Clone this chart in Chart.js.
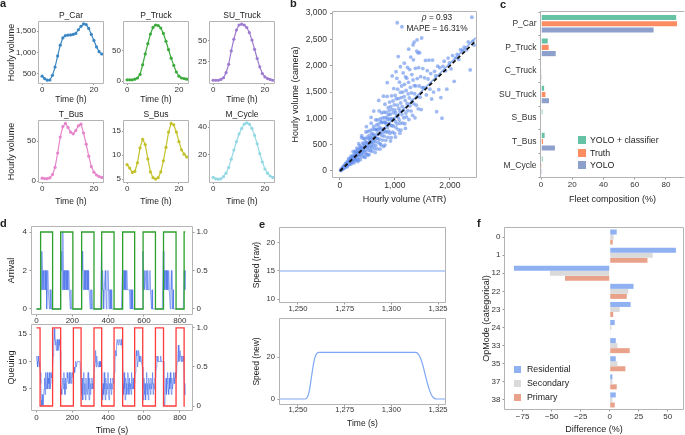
<!DOCTYPE html>
<html>
<head>
<meta charset="utf-8">
<script src="https://cdn.jsdelivr.net/npm/chart.js@4.4.0/dist/chart.umd.min.js"></script>
<style>
  html, body { margin: 0; padding: 0; background: #fff; overflow: hidden; }
  body { width: 685px; height: 435px; position: relative; font-family: "Liberation Sans", Arial, sans-serif; color: #222; }
  canvas { position: absolute; }
  .t { position: absolute; white-space: nowrap; line-height: 1; transform: translate(-50%, -50%); }
  .lbl { position: absolute; font-weight: bold; font-size: 11px; line-height: 11px; }
  .sw { position: absolute; }
  .lg { position: absolute; white-space: nowrap; line-height: 1; transform: translateY(-50%); }
</style>
</head>
<body>
<script>
// ---------- data: panel a (hourly profiles) ----------
const hours = [0,1,2,3,4,5,6,7,8,9,10,11,12,13,14,15,16,17,18,19,20,21,22,23];
const pCar = [450,390,355,360,470,660,920,1170,1340,1395,1405,1410,1420,1445,1530,1610,1665,1650,1560,1420,1280,1130,1020,965];
const pTruck = [2,2,2,3,5,11,27,45,62,78,89,93,92,88,79,66,52,38,26,15,8,5,4,3];
const suTruck = [3,3,3,4,6,12,22,38,52,63,69,70,69,66,60,51,40,29,19,11,7,5,4,3];
const tBus = [3.5,3,3,4,8,17,35,55,68,72,67,61,59,63,69,71,60,46,31,18,11,7.5,5.5,4.5];
const sBus = [8,7.3,6.4,6.6,8.4,11.5,13.3,12.2,9.2,6.5,5.3,5.0,5.3,6.5,8.8,11.6,14.8,16.6,16.3,14.8,12.8,11.1,10.2,9.6];
const mCycle = [4,3,2.7,3,4.5,7,11,17,23.5,29.5,35,39,42,43,42,39,34,28,21,15,10,7,5,4];
const aTicksX = [0, 20];

// ---------- data: panel b (camera vs ATR hourly volume) ----------
const scatterPoints = [
  [12,16],[19,13],[24,36],[31,28],[37,44],[42,32],[49,51],[55,77],[58,49],[66,76],[71,48],[77,100],[83,79],[86,95],[94,75],
  [99,144],[104,104],[111,80],[115,140],[121,109],[127,137],[132,82],[136,184],[143,139],[148,170],[151,118],[157,236],[163,166],
  [168,146],[172,217],[179,125],[183,201],[188,175],[194,272],[197,162],[203,240],[208,137],[214,225],[219,285],[224,202],[229,256],
  [233,172],[238,369],[244,239],[249,209],[253,304],[258,155],[264,282],[269,371],[273,251],[278,220],[284,329],[289,199],[293,375],[298,298],
  [303,258],[307,436],[312,222],[318,350],[321,305],[327,409],[332,209],[336,353],[341,518],[347,305],[352,412],[355,270],[361,480],
  [366,355],[372,216],[375,450],[381,404],[386,320],[392,635],[397,365],[401,453],[406,272],[412,531],[417,417],[421,333],[427,619],
  [433,390],[436,514],[442,270],[447,483],[452,615],[458,394],[463,565],[467,341],[472,741],[478,459],[483,536],[487,317],[493,641],
  [498,443],[503,523],[508,752],[514,396],[518,616],[523,492],[529,317],[534,678],[538,549],[544,452],[549,769],[553,387],[559,637],
  [564,553],[568,909],[573,499],[579,712],[584,374],[588,629],[594,790],[598,544],[326,179],[459,257],[512,297],[395,672],[481,842],
  [566,1019],[349,349],[431,444],[547,596],[577,439],
  [603,699],[607,486],[613,846],[618,587],[622,678],[628,427],[633,791],[637,643],[643,553],[648,972],[652,482],[657,782],[663,617],
  [667,874],[672,706],[678,420],[683,970],[687,618],[692,775],[698,544],[702,892],[707,700],[713,1141],[717,602],[722,830],[728,517],
  [733,990],[737,715],[742,801],[748,494],[753,919],[757,1105],[762,671],[768,791],[773,587],[777,1010],[783,736],[788,922],[792,467],
  [798,1117],[803,803],[807,662],[813,1008],[818,1268],[822,756],[828,919],[833,583],[837,1113],[843,894],[847,737],[852,1022],
  [858,1416],[862,828],[867,980],[873,637],[877,1201],[882,900],[888,755],[893,1143],[897,978],[615,1138],[705,1340],[790,1422],
  [860,1677],[640,352],[730,416],[820,492],[675,797],[745,939],[815,929],[885,1071],
  [903,1309],[908,717],[913,1077],[918,872],[924,1220],[929,994],[933,634],[939,1427],[944,859],[949,1167],[953,991],[959,738],
  [964,1330],[968,1104],[973,856],[979,1566],[984,984],[988,1255],[994,716],[999,1159],[1004,1436],[1009,938],[1015,1106],[1019,825],
  [1024,1372],[1030,1051],[1035,1760],[1039,894],[1044,1253],[1050,1554],[1055,1023],[1061,785],[1066,1375],[1071,1189],[1077,969],
  [1082,1688],[1088,1142],[1093,907],[1099,1495],[1104,1292],[1110,777],[1116,1395],[1121,1614],[1127,1071],[1133,1224],[1139,911],
  [1144,1499],[1150,1863],[1156,1156],[1162,1011],[1168,1413],[1174,1644],[1180,897],[1186,1340],[1192,1788],[1197,1101],
  [1042,2816],[1127,2740],[950,1805],[1020,1887],[1100,1980],[1170,2048],[1060,2173],[920,570],[1010,646],[1090,719],[1190,809],
  [1204,1529],[1209,1028],[1216,1763],[1222,1283],[1229,1966],[1235,1149],[1241,1464],[1248,1685],[1254,978],[1261,1387],[1268,1927],
  [1274,1236],[1281,1588],[1288,2164],[1294,1139],[1301,1483],[1308,1831],[1315,1341],[1322,1058],[1329,1728],[1336,2111],[1343,1276],
  [1350,1620],[1358,1467],[1365,1010],[1373,1950],[1381,1616],[1389,1250],[1397,2277],[1405,1756],[1414,1414],[1423,1181],[1432,1962],
  [1441,1614],[1450,2248],[1459,1401],[1468,1791],[1477,1167],[1486,2526],[1495,1585],[1348,2446],[1402,2489],[1420,2243],[1250,2313],
  [1330,2394],
  [1508,1945],[1524,1585],[1539,1770],[1556,2101],[1571,1445],[1588,1906],[1603,1747],[1619,2105],[1636,1554],[1652,1850],[1668,1368],
  [1685,2106],[1703,1499],[1721,1893],[1740,1810],[1759,1126],[1778,1991],[1797,1545],[1816,1961],[1836,1395],[1856,1002],[1874,1986],
  [1895,2085],[1921,1902],[1944,1555],[1968,2145],[1992,2052],[2021,1940],[2049,2192],[2078,1704],[2102,2144],[2131,2216],[2163,2120],
  [2194,2304],[2226,2293],[2261,2351],[2298,2298],[2334,2451],[2370,1920],[2400,2920],[2418,2466],[2440,2391]
];
const diagX = [0, 2480], diagY = [0, 2480];
const fitX = [0, 2470], fitY = [-20, 2530];
const bTicksX = [0, 1000, 2000];
const bTicksY = [0, 500, 1000, 1500, 2000, 2500, 3000];

// ---------- data: panel c (fleet composition, %) ----------
const fleetClasses = ['P_Car', 'P_Truck', 'C_Truck', 'SU_Truck', 'S_Bus', 'T_Bus', 'M_Cycle'];
const yoloClassifier = [87, 4.7, 0.3, 2.4, 1.3, 2.7, 1.4];
const truth = [87.5, 5.3, 0.6, 3.2, 0.1, 1.7, 1.0];
const yoloOnly = [72.5, 9.8, 1.0, 5.5, 0.2, 9.3, 1.1];
const cTicksX = [0, 20, 40, 60, 80];

// ---------- data: panel d (signal timing, sampled every 3 s) ----------
const dStep = 3;
const arrival = [
  0,0,0,0,0,0,0,0,
  3,1,3,2,1,2,1,2,2,1,2,0,1,2,1,1,0,1,1,0,0,0,0,
  0,0,0,0,0,0,0,0,0,0,0,0,0,0,
  4,2,3,1,4,2,1,2,1,2,2,1,2,1,1,2,1,1,0,1,0,0,0,
  0,0,0,0,0,0,0,0,0,0,0,0,0,0,0,0,
  2,3,2,1,2,2,1,2,1,2,2,1,2,1,1,1,0,1,0,1,0,0,0,0,
  0,0,0,0,0,0,0,0,0,0,0,0,0,
  3,1,2,1,0,1,1,2,1,0,1,1,2,1,0,1,1,0,1,0,0,0,0,0,
  0,0,0,0,0,0,0,0,0,0,0,0,0,0,0,
  2,1,2,2,1,2,1,1,2,1,1,1,1,1,0,1,1,0,1,0,0,0,0,
  0,0,0,0,0,0,0,0,0,0,0,0,0,0,0,
  3,1,2,1,2,2,1,2,1,2,1,1,1,2,1,1,0,1,0,0,0,0,0,0,
  0,0,0,0,0,0,0,0,0,0,0,0,0,0,
  3,1,2,1,2,2,1,2,1,1,2,1,1,0,1,2,1,0,1,0,0,0,0,0,
  0,0,0,0,0,0,0,0,0,0,0,0,0,0,0,
  2,1,2
];
const queuing = [
  11,10,9,11,10,9,10,
  8,6,3,2,4,2,3,5,7,4,8,5,6,8,5,7,6,8,5,6,8,7,8,
  9,11,13,16,14,13,14,12,13,14,12,13,14,13,12,
  6,5,4,6,7,5,8,6,4,7,5,6,8,7,6,7,8,6,7,8,6,7,8,7,
  8,9,8,9,10,9,9,10,10,10,10,10,10,10,
  6,4,7,3,5,8,4,6,3,7,5,4,6,8,5,3,7,4,6,5,7,6,5,7,
  8,9,10,12,9,11,10,10,9,10,10,9,10,9,10,
  5,3,6,4,8,5,3,7,4,6,5,8,4,3,6,5,7,4,6,5,7,6,8,
  8,10,12,11,13,14,14,13,14,14,14,13,14,14,13,12,
  6,4,8,5,3,7,6,4,5,8,6,4,7,5,6,4,8,5,6,7,5,6,
  7,8,10,12,11,9,10,12,11,10,10,11,10,10,9,
  5,3,7,4,6,3,5,8,4,6,3,7,5,6,4,7,5,6,8,4,6,5,7,
  7,8,9,11,10,11,10,10,10,10,11,10,10,10,10,10,
  4,2,3,5,7,4,6,8,5,4,7,5,8,6,4,7,5,6,8,7,6,8,7,
  8,9,10,11,13,10,11,12,11,10,11,10,11,11,10,
  6,4,4
];
const greenTimes = [0, 23, 90, 135, 203, 252, 321, 364, 433, 481, 548, 595, 664, 709, 779, 824, 830];
const greenState = [0, 1, 0, 1, 0, 1, 0, 1, 0, 1, 0, 1, 0, 1, 0, 1, 1];
const redTimes = [0, 20, 90, 135, 206, 249, 321, 364, 433, 481, 548, 593, 664, 709, 779, 824, 828];
const redState = [1, 0, 1, 0, 1, 0, 1, 0, 1, 0, 1, 0, 1, 0, 1, 0, 0];
const dTicksX = [0, 200, 400, 600, 800];

// ---------- data: panel e (speed) ----------
const rawTimes = [1240, 1329];
const rawSpeed = [15, 15];
const newTimes = [1240,1254,1255,1256,1257,1258,1259,1260,1261,1313,1314,1315,1316,1317,1318,1319,1320,1321,1322,1323,1324,1329];
const newSpeed = [0,0,0.8,3.5,9,15,19.5,21.6,22.2,22.2,21.8,20.6,18.5,15.5,12,8.5,5.3,2.8,1.1,0.3,0,0];
const eTicksX = [1250, 1275, 1300, 1325];

// ---------- data: panel f (OpMode difference, %) ----------
const opModes = ['0', '1', '12', '22', '23', '24', '33', '35', '37', '38'];
const residential = [6, 57, -82.5, 20.5, 18, 4.3, 5.2, 5.2, 2.3, 5.2];
const secondary = [3.4, 37, -51.5, 16, 8.6, 1.5, 6.6, 6.6, 2.3, 2.3];
const primary = [2.6, 32.5, -38.5, 14.7, 3, 0.5, 17.2, 13.5, 6, 4.3];
const fTicksX = [-75, -50, -25, 0, 25, 50];

// ---------- chart setup ----------
Chart.defaults.font.family = '"Liberation Sans", Arial, sans-serif';
Chart.defaults.color = '#333';
Chart.defaults.animation = false;
Chart.defaults.events = [];
Chart.defaults.plugins.legend.display = false;
Chart.defaults.plugins.tooltip.enabled = false;

// grey box round each plot area
Chart.register({
  id: 'frame',
  afterDatasetsDraw(chart, args, opts) {
    const { ctx, chartArea: a } = chart;
    const sides = opts.sides || 'ltrb';
    const l = Math.round(a.left) - 0.5, r = Math.round(a.right) + 0.5;
    const t = Math.round(a.top) - 0.5, b = Math.round(a.bottom) + 0.5;
    ctx.save();
    ctx.strokeStyle = opts.color || '#b4b4b4';
    ctx.lineWidth = 1;
    ctx.beginPath();
    if (sides.includes('l')) { ctx.moveTo(l, t); ctx.lineTo(l, b); }
    if (sides.includes('r')) { ctx.moveTo(r, t); ctx.lineTo(r, b); }
    if (sides.includes('t')) { ctx.moveTo(l, t); ctx.lineTo(r, t); }
    if (sides.includes('b')) { ctx.moveTo(l, b); ctx.lineTo(r, b); }
    ctx.stroke();
    ctx.restore();
  }
});

// rect = plot area [L, T, R, B] on the page, m = room for axes [left, top, right, bottom]
function place(rect, m, config, rightAxis) {
  const [L, T, R, B] = rect, [ml, mt, mr, mb] = m;
  const w = R - L + ml + mr, h = B - T + mt + mb;
  const cv = document.createElement('canvas');
  cv.width = w; cv.height = h;
  cv.style.left = (L - ml) + 'px';
  cv.style.top = (T - mt) + 'px';
  cv.style.width = w + 'px';
  cv.style.height = h + 'px';
  document.body.appendChild(cv);
  config.options.responsive = false;
  config.options.layout = { padding: { left: 0, top: mt, right: rightAxis ? 0 : mr, bottom: 0 } };
  return new Chart(cv, config);
}

function lin(pos, min, max, ticks, size, o = {}) {
  const horiz = pos === 'bottom';
  const ax = {
    type: 'linear', position: pos, min, max,
    afterBuildTicks: s => { s.ticks = ticks.map(v => ({ value: v })); },
    afterFit: s => {
      if (horiz) { s.height = size; s.paddingLeft = 0; s.paddingRight = 0; }
      else { s.width = size; s.paddingTop = 0; s.paddingBottom = 0; }
    },
    grid: { drawOnChartArea: false, tickLength: o.tl ?? 2.5, color: '#999' },
    border: { display: false },
    ticks: { padding: o.pad ?? 1, autoSkip: false, maxRotation: 0, color: '#333',
             font: { size: o.fs ?? 8, lineHeight: 1 } },
    title: { display: !!o.title, text: o.title || '', color: '#222',
             font: { size: o.tfs ?? 9, lineHeight: 1.2 },
             padding: { top: o.tp ?? 0, bottom: o.tp ?? 0 } }
  };
  if (o.cb) ax.ticks.callback = o.cb;
  return ax;
}

function cat(size, gridOffset, fs) {
  return {
    type: 'category', position: 'left',
    afterFit: s => { s.width = size; s.paddingTop = 0; s.paddingBottom = 0; },
    grid: { drawOnChartArea: false, tickLength: 2.5, color: '#999', offset: gridOffset },
    border: { display: false },
    ticks: { padding: 2, autoSkip: false, color: '#333', font: { size: fs, lineHeight: 1 } }
  };
}

function text(html, cx, cy, size, cls) {
  const d = document.createElement('div');
  d.className = cls || 't';
  d.innerHTML = html;
  d.style.left = cx + 'px';
  d.style.top = cy + 'px';
  if (size) d.style.fontSize = size + 'px';
  document.body.appendChild(d);
  return d;
}

function legendItem(label, color, x, cy, sq, tx, size) {
  const s = document.createElement('div');
  s.className = 'sw';
  s.style.cssText = `left:${x}px;top:${cy - sq / 2}px;width:${sq}px;height:${sq}px;background:${color}`;
  document.body.appendChild(s);
  text(label, tx, cy, size, 'lg');
}

const pts = (xs, ys) => xs.map((x, i) => ({ x, y: ys[i] }));

// ---------- panel a ----------
const profiles = [
  { name: 'P_Car', vals: pCar, color: '#3b87c4', ymin: 290, ymax: 1710, yt: [500, 1000, 1500] },
  { name: 'P_Truck', vals: pTruck, color: '#3cab3c', ymin: -3.3, ymax: 98, yt: [0, 50] },
  { name: 'SU_Truck', vals: suTruck, color: '#9d7bd0', ymin: -0.3, ymax: 72.6, yt: [25, 50] },
  { name: 'T_Bus', vals: tBus, color: '#e684cc', ymin: -1.25, ymax: 75, yt: [0, 50] },
  { name: 'S_Bus', vals: sBus, color: '#c3c22c', ymin: 4.4, ymax: 17.1, yt: [5, 10, 15] },
  { name: 'M_Cycle', vals: mCycle, color: '#93d9e4', ymin: 0.7, ymax: 44.3, yt: [20, 40] }
];
const aCols = [39, 124, 210], aW = 64;
const aRows = [[22, 83, 23], [121, 182, 26]];
profiles.forEach((p, i) => {
  const col = i % 3, row = Math.floor(i / 3);
  const L = aCols[col], [T, B, mb] = aRows[row];
  const ml = col === 0 ? 39 : (col === 1 ? 16 : 14);
  place([L, T, L + aW, B], [ml, 4, 4, mb], {
    type: 'line',
    data: { datasets: [{
      data: pts(hours, p.vals), borderColor: p.color, backgroundColor: p.color,
      borderWidth: 1.2, pointRadius: 1.6, pointBorderWidth: 0, tension: 0
    }] },
    options: {
      scales: {
        x: lin('bottom', -1.2, 23.5, aTicksX, mb, { tl: 2, pad: 1, title: 'Time (h)', tfs: 8.5, tp: 1 }),
        y: lin('left', p.ymin, p.ymax, p.yt, ml, col === 0 ? { tl: 2, pad: 1, title: 'Hourly volume', tp: 6.6 } : { tl: 2, pad: 1 })
      },
      plugins: { frame: {} }
    }
  });
  text(p.name, L + aW / 2, T - 7, 8.5);
});

// ---------- panel b ----------
place([333, 12, 476, 177], [43, 8, 6, 28], {
  type: 'scatter',
  data: { datasets: [
    { data: pts(diagX, diagY), showLine: true, borderColor: '#111', borderDash: [4, 2.5], borderWidth: 1.8, pointRadius: 0 },
    { data: pts(fitX, fitY), showLine: true, borderColor: 'rgba(120,160,240,0.9)', borderWidth: 1.5, pointRadius: 0 },
    { data: scatterPoints.map(([x, y]) => ({ x, y })), backgroundColor: 'rgba(95,140,235,0.6)', pointRadius: 1.9, borderWidth: 0 }
  ] },
  options: {
    scales: {
      x: lin('bottom', -127, 2475, bTicksX, 28, { tl: 3, pad: 1, fs: 8.5, title: 'Hourly volume (ATR)', tp: 0 }),
      y: lin('left', -114, 3020, bTicksY, 43, { tl: 3, pad: 3, fs: 8.5, title: 'Hourly volume (camera)', tp: 0.6 })
    },
    plugins: { frame: {} }
  }
});
text('<i>ρ</i> = 0.93', 437, 17.3, 8.3);
text('MAPE = 16.31%', 437, 28.3, 8.3);

// ---------- panel c ----------
const cColors = ['#66c2a5', '#fc8d62', '#8da0cb'];
const cSeries = [['YOLO + classifier', yoloClassifier], ['Truth', truth], ['YOLO', yoloOnly]];
place([541, 12, 684, 177], [46, 8, 1, 28], {
  type: 'bar',
  data: { labels: fleetClasses, datasets: cSeries.map(([label, vals], k) => ({
    label, data: vals, backgroundColor: cColors[k], borderColor: 'rgba(255,255,255,0.5)', borderWidth: 0.6
  })) },
  options: {
    indexAxis: 'y',
    datasets: { bar: { categoryPercentage: 0.8, barPercentage: 1 } },
    scales: {
      x: lin('bottom', 0, 91.6, cTicksX, 28, { tl: 2.5, pad: 1, fs: 8, title: 'Fleet composition (%)', tp: 0.3 }),
      y: cat(46, true, 8.5)
    },
    plugins: { frame: { sides: 'ltb' } }
  }
});
[140, 153, 165.3].forEach((cy, k) => legendItem(cSeries[k][0], cColors[k], 578, cy, 8, 590, 8.8));

// ---------- panel d ----------
const fmtFrac = v => (v === 1 ? '1.0' : String(v));
place([32, 227, 192, 314], [32, 4, 22, 12], {
  type: 'line',
  data: { datasets: [
    { data: pts(greenTimes, greenState), yAxisID: 'y2', stepped: true, borderColor: '#2ca02c', borderWidth: 1.3, pointRadius: 0 },
    { data: arrival.map((v, i) => ({ x: i * dStep, y: v })), borderColor: 'rgba(80,118,235,0.8)', borderWidth: 0.8, pointRadius: 0 }
  ] },
  options: {
    scales: {
      x: lin('bottom', -25, 868, dTicksX, 12, { pad: 0 }),
      y: lin('left', -0.26, 4.26, [0, 2, 4], 32, { pad: 2.5, title: 'Arrival', tp: 6.3 }),
      y2: lin('right', -0.065, 1.065, [0, 0.5, 1], 22, { pad: 2, cb: fmtFrac })
    },
    plugins: { frame: {} }
  }
}, true);
place([32, 325, 192, 410], [32, 4, 22, 26], {
  type: 'line',
  data: { datasets: [
    { data: pts(redTimes, redState), yAxisID: 'y2', stepped: true, borderColor: '#ff3b3b', borderWidth: 1.3, pointRadius: 0 },
    { data: queuing.map((v, i) => ({ x: i * dStep, y: v })), borderColor: 'rgba(80,118,235,0.8)', borderWidth: 0.8, pointRadius: 0 }
  ] },
  options: {
    scales: {
      x: lin('bottom', -25, 868, dTicksX, 26, { pad: 0.8, title: 'Time (s)', tp: 0 }),
      y: lin('left', 1.18, 16.64, [5, 10, 15], 32, { pad: 2.5, title: 'Queuing', tp: 6.3 }),
      y2: lin('right', -0.051, 1.038, [0, 0.5, 1], 22, { pad: 2, cb: fmtFrac })
    },
    plugins: { frame: {} }
  }
}, true);

// ---------- panel e ----------
place([280, 228, 445, 302], [35, 4, 4, 12], {
  type: 'line',
  data: { datasets: [{ data: pts(rawTimes, rawSpeed), borderColor: '#7ea6f5', borderWidth: 1.2, pointRadius: 0 }] },
  options: {
    scales: {
      x: lin('bottom', 1240.4, 1328.7, eTicksX, 12, { pad: 0.8, fs: 7.6 }),
      y: lin('left', 9.52, 22.6, [10, 15, 20], 35, { pad: 2.5, fs: 7.6, title: 'Speed (raw)', tfs: 8.5, tp: 6.3 })
    },
    plugins: { frame: {} }
  }
});
place([280, 319, 445, 404], [35, 4, 4, 25], {
  type: 'line',
  data: { datasets: [{ data: pts(newTimes, newSpeed), borderColor: '#7ea6f5', borderWidth: 1.2, pointRadius: 0, cubicInterpolationMode: 'monotone' }] },
  options: {
    scales: {
      x: lin('bottom', 1240.4, 1328.7, eTicksX, 25, { pad: 0, fs: 7.6, title: 'Time (s)', tfs: 8.5, tp: 0.3 }),
      y: lin('left', -2.38, 38.1, [0, 20], 35, { pad: 2.5, fs: 7.6, title: 'Speed (new)', tfs: 8.5, tp: 6.3 })
    },
    plugins: { frame: {} }
  }
});

// ---------- panel f ----------
const fColors = ['#8fb1f2', '#dadada', '#e9a189'];
const fSeries = [['Residential', residential], ['Secondary', secondary], ['Primary', primary]];
place([505, 228, 683, 409], [24, 4, 2, 26], {
  type: 'bar',
  data: { labels: opModes, datasets: fSeries.map(([label, vals], k) => ({
    label, data: vals, backgroundColor: fColors[k], borderWidth: 0
  })) },
  options: {
    indexAxis: 'y',
    datasets: { bar: { categoryPercentage: 0.83, barPercentage: 1 } },
    scales: {
      x: lin('bottom', -90.2, 63.1, fTicksX, 26, { pad: 1.5, fs: 8, title: 'Difference (%)', tp: 0,
        cb: v => (v < 0 ? '\u2212' + Math.abs(v) : String(v)) }),
      y: Object.assign(cat(24, false, 8), { title: { display: true, text: 'OpMode (categorical)', color: '#222', font: { size: 9, lineHeight: 1.2 }, padding: { top: 0, bottom: 0 } } })
    },
    plugins: { frame: {} }
  }
});
[369, 383.3, 397].forEach((cy, k) => legendItem(fSeries[k][0], fColors[k], 514, cy, 7, 527, 8.8));

// ---------- panel letters ----------
[['a', 0, -2], ['b', 290, -2], ['c', 500, -1], ['d', 0, 218], ['e', 259, 218.5], ['f', 477, 218]].forEach(([s, x, y]) => {
  text(s, x, y, 0, 'lbl');
});
</script>
</body>
</html>
